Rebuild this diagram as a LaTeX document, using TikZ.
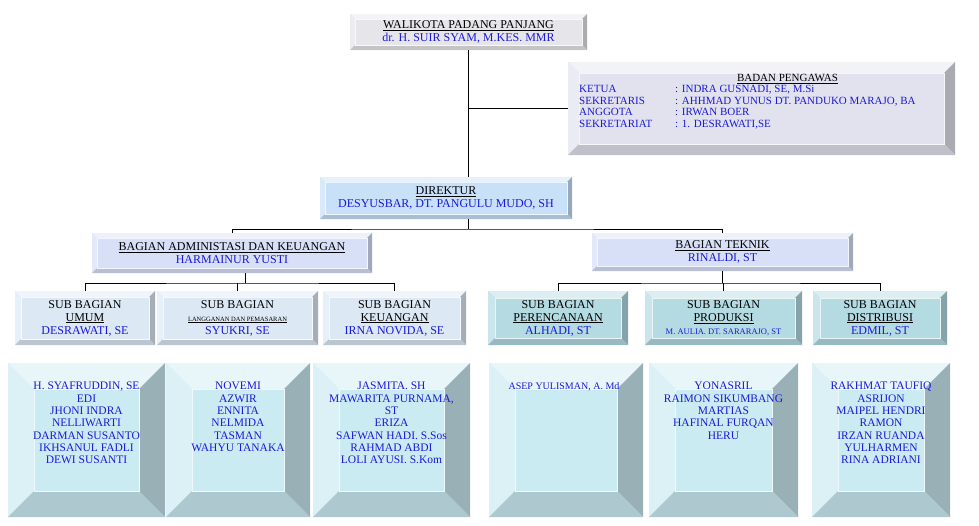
\documentclass[tikz,border=0pt]{standalone}
\usepackage{fontspec}
\setmainfont{Liberation Serif}
\usepackage{array}
\definecolor{nm}{HTML}{1A1AD8}
\definecolor{dirc}{HTML}{C8E0F8}
\definecolor{topc}{HTML}{E6E6EA}
\definecolor{bpc}{HTML}{E2E2EE}
\definecolor{bagc}{HTML}{D8E0F8}
\definecolor{subac}{HTML}{DCE8F4}
\definecolor{subtc}{HTML}{B4DAE2}
\definecolor{stc}{HTML}{CBEBF2}
\def\bd{5}\def\bc{white}
\tikzset{
  bevd/.code={\def\bd{#1}},
  bevc/.code={\def\bc{#1}},
  bev/.style={draw=none, fill=\bc, inner sep=0pt, align=center, font=\fontsize{12}{13}\selectfont,
    path picture={
      \fill[white!55!\bc] (path picture bounding box.north west) -- (path picture bounding box.north east) -- ([shift={(-\bd pt,-\bd pt)}]path picture bounding box.north east) -- ([shift={(\bd pt,-\bd pt)}]path picture bounding box.north west) -- cycle;
      \fill[white!30!\bc] (path picture bounding box.north west) -- (path picture bounding box.south west) -- ([shift={(\bd pt,\bd pt)}]path picture bounding box.south west) -- ([shift={(\bd pt,-\bd pt)}]path picture bounding box.north west) -- cycle;
      \fill[black!25!\bc] (path picture bounding box.north east) -- (path picture bounding box.south east) -- ([shift={(-\bd pt,\bd pt)}]path picture bounding box.south east) -- ([shift={(-\bd pt,-\bd pt)}]path picture bounding box.north east) -- cycle;
      \fill[black!15!\bc] (path picture bounding box.south west) -- (path picture bounding box.south east) -- ([shift={(-\bd pt,\bd pt)}]path picture bounding box.south east) -- ([shift={(\bd pt,\bd pt)}]path picture bounding box.south west) -- cycle;
      \draw[white!70!\bc, line width=0.6pt] ([shift={(\bd pt,-\bd pt)}]path picture bounding box.north west) rectangle ([shift={(-\bd pt,\bd pt)}]path picture bounding box.south east);
    }},
  top/.style={bevd=5, bevc=topc, bev},
  dirb/.style={bevd=5, bevc=dirc, bev},
  bag/.style={bevd=5, bevc=bagc, bev},
  suba/.style={bevd=6, bevc=subac, bev},
  subt/.style={bevd=7, bevc=subtc, bev},
  staff/.style={bevd=26, bevc=stc, bev},
  bpb/.style={bevd=11, bevc=bpc, bev},
  con/.style={line width=0.8pt}
}
\newcommand{\nmx}[1]{\textcolor{nm}{#1}}
\begin{document}
\begin{tikzpicture}[x=1pt,y=-1pt]
\useasboundingbox (0,0) rectangle (979,525);
\node[top, minimum width=237pt, minimum height=36pt] (wal) at (468.5,32) {\underline{WALIKOTA PADANG PANJANG}\\\nmx{dr. H. SUIR SYAM, M.KES. MMR}};
\node[bpb, minimum width=387pt, minimum height=93pt] (bp) at (761.5,108.5) {};
\node[anchor=north west, inner sep=0pt, font=\fontsize{11}{11.5}\selectfont] (bpt) at (579,73) {%
\begin{tabular}{@{}p{96pt}@{}l@{}}
\multicolumn{2}{@{}c@{}}{\hspace{80pt}\underline{BADAN PENGAWAS}}\\
\nmx{KETUA} & \nmx{: INDRA GUSNADI, SE, M.Si}\\
\nmx{SEKRETARIS} & \nmx{: AHHMAD YUNUS DT. PANDUKO MARAJO, BA}\\
\nmx{ANGGOTA} & \nmx{: IRWAN BOER}\\
\nmx{SEKRETARIAT} & \nmx{: 1. DESRAWATI,SE}
\end{tabular}};
\node[dirb, minimum width=252pt, minimum height=42pt] (dir) at (446,198) {\underline{DIREKTUR}\\\nmx{DESYUSBAR, DT. PANGULU MUDO, SH}};
\node[bag, minimum width=280pt, minimum height=40pt] (adm) at (232,253) {\underline{BAGIAN ADMINISTASI DAN KEUANGAN}\\\nmx{HARMAINUR YUSTI}};
\node[bag, minimum width=261pt, minimum height=38pt] (tek) at (722.5,252) {\underline{BAGIAN TEKNIK}\\\nmx{RINALDI, ST}};
\node[suba, minimum width=140pt, minimum height=54pt] (umum) at (85,318) {SUB BAGIAN\\\underline{UMUM}\\\nmx{DESRAWATI, SE}};
\node[suba, minimum width=161pt, minimum height=54pt] (lang) at (237.5,318) {SUB BAGIAN\\{\fontsize{6.5}{10}\selectfont\underline{LANGGANAN DAN PEMASARAN}}\\\nmx{SYUKRI, SE}};
\node[suba, minimum width=143pt, minimum height=54pt] (keu) at (394.5,318) {SUB BAGIAN\\\underline{KEUANGAN}\\\nmx{IRNA NOVIDA, SE}};
\node[subt, minimum width=140pt, minimum height=54pt] (per) at (558,318) {SUB BAGIAN\\\underline{PERENCANAAN}\\\nmx{ALHADI, ST}};
\node[subt, minimum width=157pt, minimum height=54pt] (pro) at (723.5,318) {SUB BAGIAN\\\underline{PRODUKSI}\\{\fontsize{8.5}{10}\selectfont\nmx{M. AULIA. DT. SARARAJO, ST}}};
\node[subt, minimum width=134pt, minimum height=54pt] (dis) at (880,318) {SUB BAGIAN\\\underline{DISTRIBUSI}\\\nmx{EDMIL, ST}};
\tikzset{lab/.style={label={[anchor=north, yshift=-16pt, align=center, text=nm, font=\fontsize{11.5}{12.3}\selectfont]north:{#1}}}}
\node[staff, minimum width=157pt, minimum height=154pt, lab={H. SYAFRUDDIN, SE\\EDI\\JHONI INDRA\\NELLIWARTI\\DARMAN SUSANTO\\IKHSANUL FADLI\\DEWI SUSANTI}] (s1) at (86.5,440) {};
\node[staff, minimum width=144pt, minimum height=154pt, lab={NOVEMI\\AZWIR\\ENNITA\\NELMIDA\\TASMAN\\WAHYU TANAKA}] (s2) at (238,440) {};
\node[staff, minimum width=157pt, minimum height=154pt, lab={JASMITA. SH\\MAWARITA PURNAMA,\\ST\\ERIZA\\SAFWAN HADI. S.Sos\\RAHMAD ABDI\\LOLI AYUSI. S.Kom}] (s3) at (391.5,440) {};
\node[staff, minimum width=154pt, minimum height=154pt, lab={{\fontsize{10}{12}\selectfont\hspace*{-4pt}ASEP YULISMAN, A. Md}}] (s4) at (566,440) {};
\node[staff, minimum width=149pt, minimum height=154pt, lab={YONASRIL\\RAIMON SIKUMBANG\\MARTIAS\\HAFINAL FURQAN\\HERU}] (s5) at (723.5,440) {};
\node[staff, minimum width=138pt, minimum height=154pt, lab={RAKHMAT TAUFIQ\\ASRIJON\\MAIPEL HENDRI\\RAMON\\IRZAN RUANDA\\YULHARMEN\\RINA ADRIANI}] (s6) at (881,440) {};
% connectors
\draw[con] (wal.south) -- (dir.north -| wal.south);
\draw[con] (bp.west) -- (bp.west -| wal.south);
\coordinate (j) at (468,229);
\draw[con] (dir.south -| j) -- (j);
\draw[con] (adm.north) |- (j) -| (tek.north);
\coordinate (ja) at (245,283);
\draw[con] (adm.south -| ja) -- (ja);
\draw[con] (umum.north) |- (ja) -| (keu.north);
\draw[con] (lang.north) -- (lang.north |- ja);
\coordinate (jt) at (722,283);
\draw[con] (tek.south -| jt) -- (jt);
\draw[con] (per.north) |- (jt) -| (dis.north);
\draw[con] (pro.north) -- (pro.north |- jt);
\end{tikzpicture}
\end{document}
